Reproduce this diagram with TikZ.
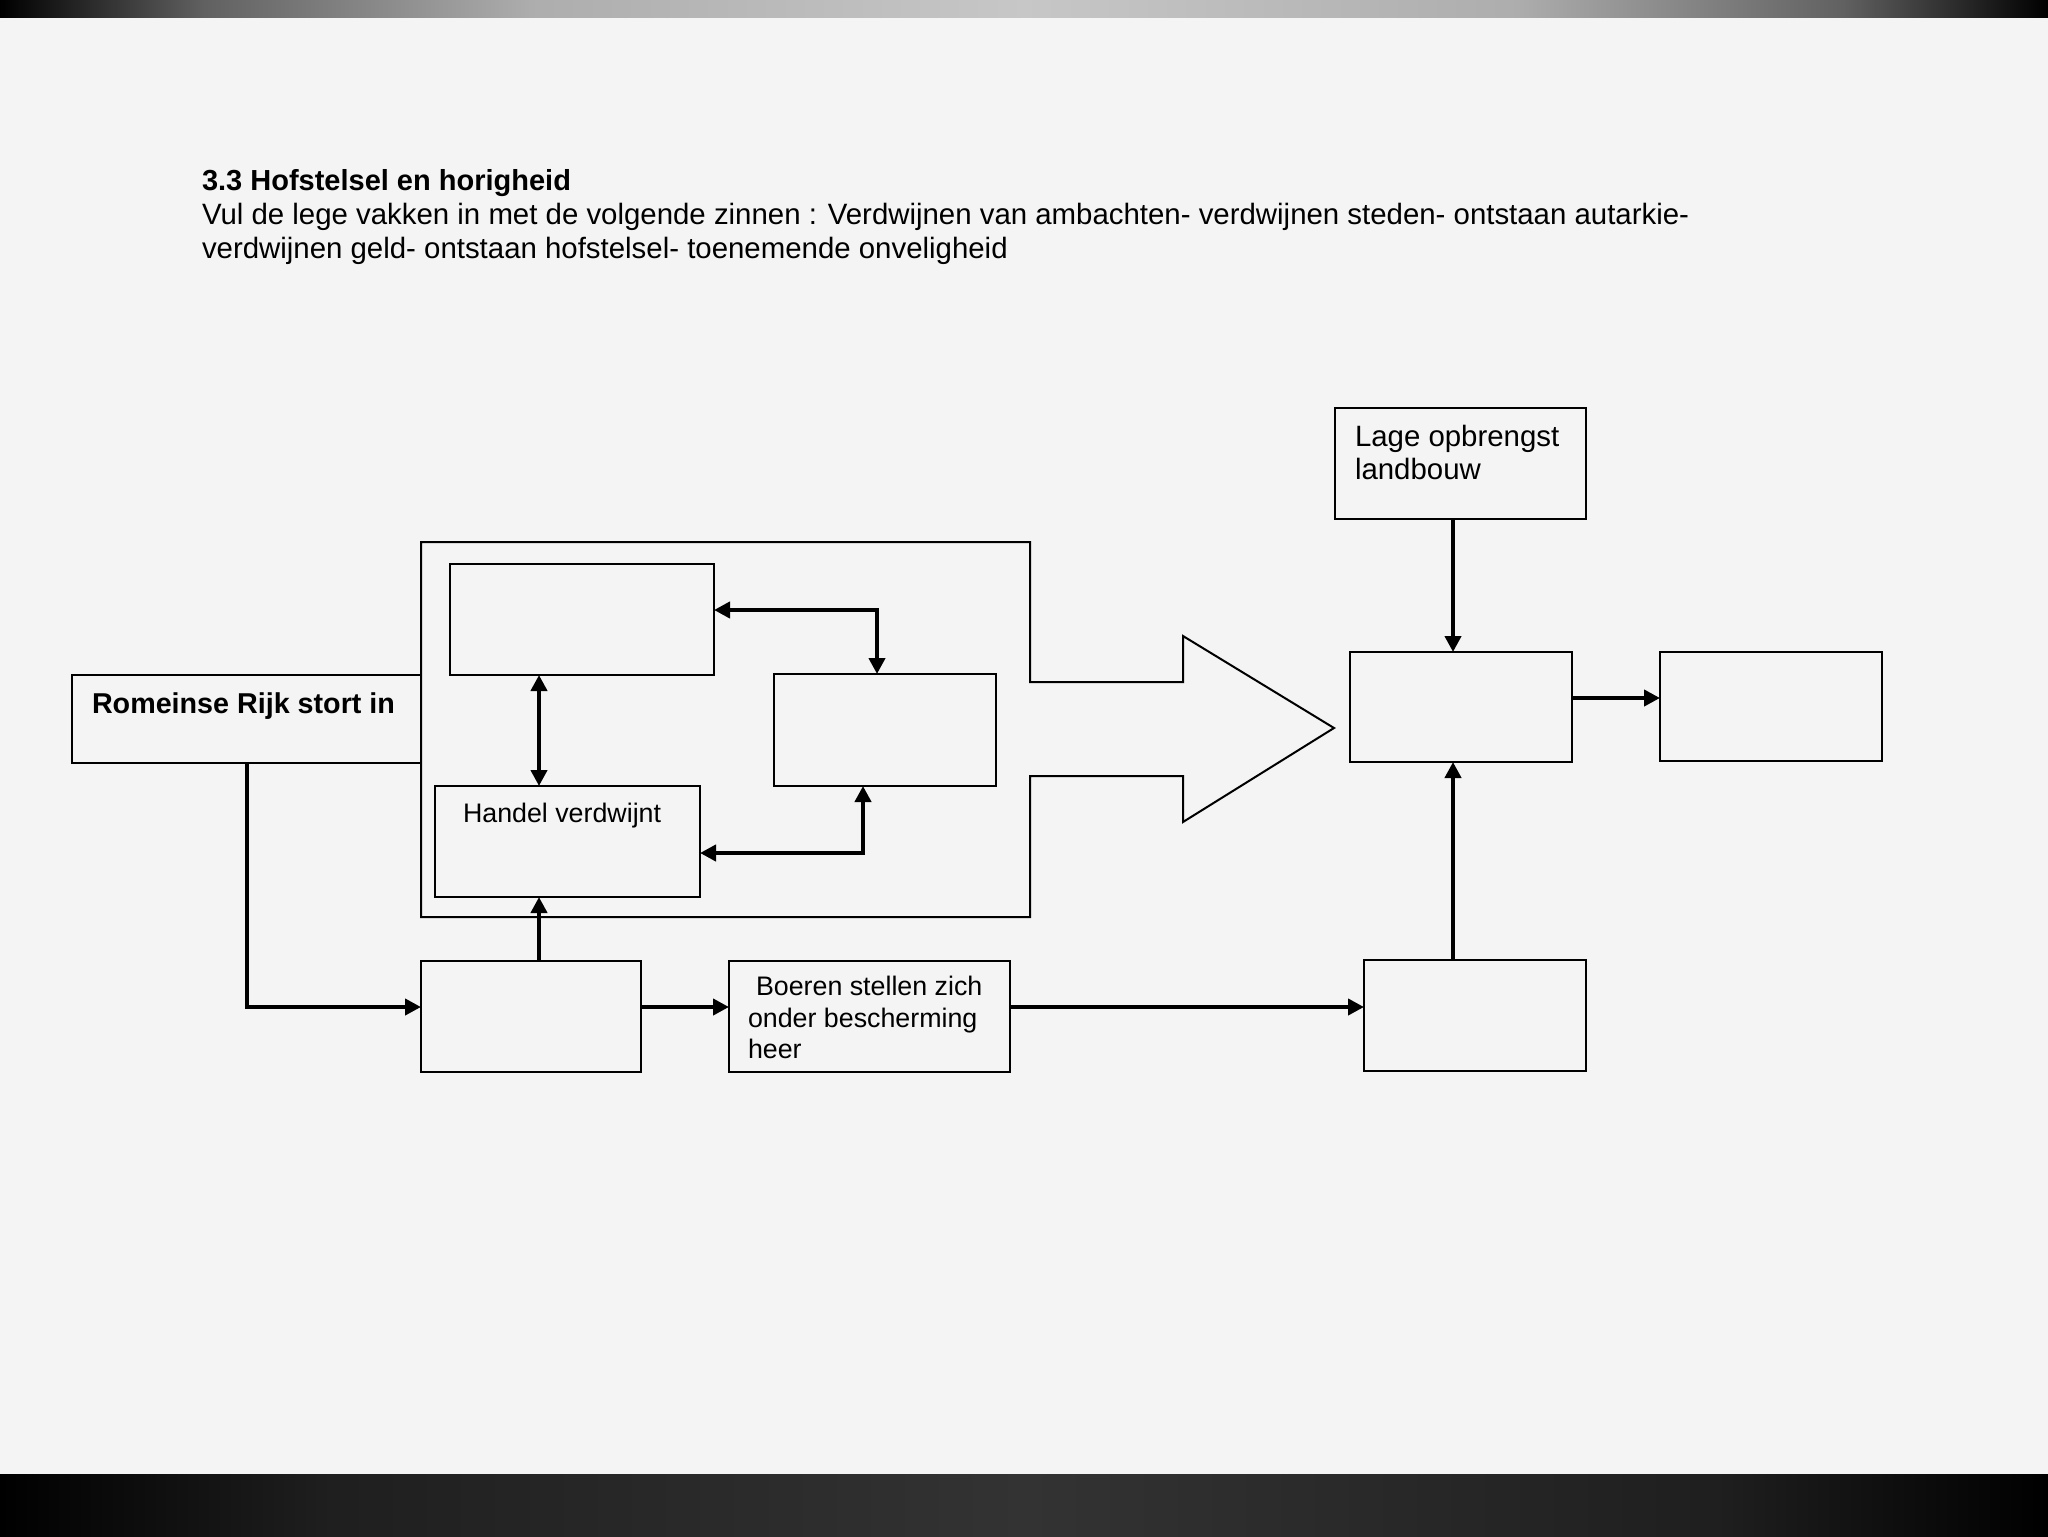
\documentclass[tikz,border=0pt]{standalone}
\usepackage{fontspec}
\setmainfont{Liberation Sans}
\usetikzlibrary{arrows.meta,calc}
\definecolor{paper}{RGB}{244,244,244}
\pgfdeclarehorizontalshading{topband}{100bp}{color(0bp)=(black); color(25bp)=(black); color(30bp)=(black!62); color(38bp)=(black!32); color(50bp)=(black!22); color(62bp)=(black!32); color(70bp)=(black!62); color(75bp)=(black); color(100bp)=(black)}
\pgfdeclarehorizontalshading{botband}{100bp}{color(0bp)=(black); color(25bp)=(black); color(33bp)=(black!88); color(50bp)=(black!80); color(67bp)=(black!88); color(75bp)=(black); color(100bp)=(black)}
\newcommand\pbox[5]{\node[box, minimum width={(#4-#2)*0.5pt}, minimum height={(#5-#3)*0.5pt}] (#1) at ({(#2+#4)/2},{(#3+#5)/2}) {};}
\tikzset{
  box/.style={draw=black, line width=1pt, inner sep=0pt, outer sep=0pt},
  outline/.style={draw=black, line width=1pt},
  arr/.style={line width=2.2pt, -{Triangle[length=8pt,width=8pt]}},
  darr/.style={line width=2.2pt, {Triangle[length=8pt,width=8pt]}-{Triangle[length=8pt,width=8pt]}},
  txtbase/.style={inner sep=0pt, outer sep=0pt, anchor=base west},
  ttl/.style={txtbase, font=\bfseries\fontsize{14.5pt}{17pt}\selectfont},
  body/.style={txtbase, font=\fontsize{14.7pt}{17pt}\selectfont},
  small/.style={txtbase, font=\fontsize{13.4pt}{16pt}\selectfont},
  boldbox/.style={txtbase, font=\bfseries\fontsize{14.35pt}{17pt}\selectfont}
}
\begin{document}
\begin{tikzpicture}[x=0.5pt,y=-0.5pt]
\useasboundingbox (0,0) rectangle (2048,1536);
\fill[paper] (0,0) rectangle (2048,1536);
\shade[shading=topband] (0,0) rectangle (2048,18);
\shade[shading=botband] (0,1474) rectangle (2048,1536);

% heading
\node[ttl] (title) at (202,190) {3.3 Hofstelsel en horigheid};
\node[body] (inst1) at (202,224) {Vul de lege vakken in met de volgende zinnen : Verdwijnen van ambachten- verdwijnen steden- ontstaan autarkie-};
\node[body] (inst2) at (202,258) {verdwijnen geld- ontstaan hofstelsel- toenemende onveligheid};

% container with big arrow
\draw[outline] (421,542) -- (1030,542) -- (1030,682) -- (1183,682) -- (1183,636) -- (1334,728) -- (1183,822) -- (1183,776) -- (1030,776) -- (1030,917) -- (421,917) -- cycle;

% boxes
\pbox{rom}{72}{675}{421}{763}
\pbox{A}{450}{564}{714}{675}
\pbox{B}{774}{674}{996}{786}
\pbox{C}{435}{786}{700}{897}
\pbox{D}{421}{961}{641}{1072}
\pbox{E}{729}{961}{1010}{1072}
\pbox{F}{1364}{960}{1586}{1071}
\pbox{H}{1335}{408}{1586}{519}
\pbox{G}{1350}{652}{1572}{762}
\pbox{I}{1660}{652}{1882}{761}

% texts in boxes
\node[boldbox] (romtxt) at (92,713) {Romeinse Rijk stort in};
\node[small] (handtxt) at (463,822) {Handel verdwijnt};
\node[small] (boer1) at (756,995) {Boeren stellen zich};
\node[small] (boer2) at (748,1027) {onder bescherming};
\node[small] (boer3) at (748,1058) {heer};
\node[body] (lage1) at (1355,446) {Lage opbrengst};
\node[body] (lage2) at (1355,479) {landbouw};

% connectors
\draw[arr] (rom.south -| 247,0) |- (D.west |- 0,1007);
\draw[arr] (D.east |- 0,1007) -- (E.west |- 0,1007);
\draw[arr] (E.east |- 0,1007) -- (F.west |- 0,1007);
\draw[arr] (D.north -| 539,0) -- (C.south -| 539,0);
\draw[darr] (A.south -| 539,0) -- (C.north -| 539,0);
\draw[darr] (A.east |- 0,610) -| (B.north -| 877,0);
\draw[darr] (C.east |- 0,853) -| (B.south -| 863,0);
\draw[arr] (H.south -| 1453,0) -- (G.north -| 1453,0);
\draw[arr] (F.north -| 1453,0) -- (G.south -| 1453,0);
\draw[arr] (G.east |- 0,698) -- (I.west |- 0,698);
\end{tikzpicture}
\end{document}
